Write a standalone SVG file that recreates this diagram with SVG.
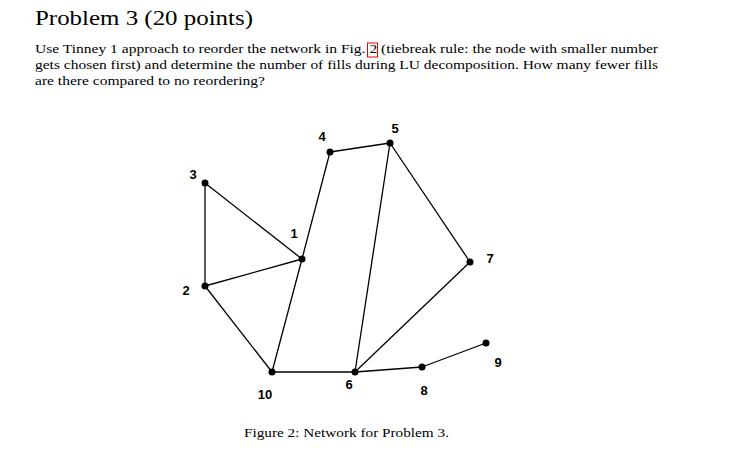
<svg xmlns="http://www.w3.org/2000/svg" width="748" height="451" viewBox="0 0 748 451">
<style>
.t{font-family:"Liberation Serif",serif;fill:#000}
.b{font-size:13px}
.lb{font-family:"Liberation Sans",sans-serif;font-weight:bold;font-size:13px}
.e line{stroke:#000;stroke-width:1.3}
.n circle{fill:#000}
</style>
<rect width="748" height="451" fill="#fff"/>
<text class="t" x="35" y="25" font-size="21" textLength="218" lengthAdjust="spacingAndGlyphs">Problem 3 (20 points)</text>
<text class="t b" x="35" y="53" textLength="623" lengthAdjust="spacingAndGlyphs">Use Tinney 1 approach to reorder the network in Fig. 2 (tiebreak rule: the node with smaller number</text>
<rect x="367.5" y="43" width="10" height="14" fill="none" stroke="#e00" stroke-width="1"/>
<text class="t b" x="35" y="69" textLength="623" lengthAdjust="spacingAndGlyphs">gets chosen first) and determine the number of fills during LU decomposition. How many fewer fills</text>
<text class="t b" x="35" y="85" textLength="230" lengthAdjust="spacingAndGlyphs">are there compared to no reordering?</text>
<g id="edges" class="e">
<line x1="205" y1="183" x2="205" y2="286"/>
<line x1="205" y1="183" x2="302" y2="259"/>
<line x1="205" y1="286" x2="302" y2="259"/>
<line x1="205" y1="286" x2="272" y2="372"/>
<line x1="272" y1="372" x2="302" y2="259"/>
<line x1="302" y1="259" x2="330" y2="152"/>
<line x1="330" y1="152" x2="390" y2="143"/>
<line x1="390" y1="143" x2="355" y2="372"/>
<line x1="390" y1="143" x2="470" y2="262"/>
<line x1="470" y1="262" x2="355" y2="372"/>
<line x1="272" y1="372" x2="355" y2="372"/>
<line x1="355" y1="372" x2="422" y2="367"/>
<line x1="422" y1="367" x2="486" y2="343"/>
</g>
<g id="n1" class="n"><circle cx="302" cy="259" r="3.5"/><text class="lb" x="294" y="238" text-anchor="middle">1</text></g>
<g id="n2" class="n"><circle cx="205" cy="286" r="3.5"/><text class="lb" x="186" y="295" text-anchor="middle">2</text></g>
<g id="n3" class="n"><circle cx="205" cy="183" r="3.5"/><text class="lb" x="193" y="179" text-anchor="middle">3</text></g>
<g id="n4" class="n"><circle cx="330" cy="152" r="3.5"/><text class="lb" x="322" y="141" text-anchor="middle">4</text></g>
<g id="n5" class="n"><circle cx="390" cy="143" r="3.5"/><text class="lb" x="395" y="133" text-anchor="middle">5</text></g>
<g id="n6" class="n"><circle cx="355" cy="372" r="3.5"/><text class="lb" x="349" y="389" text-anchor="middle">6</text></g>
<g id="n7" class="n"><circle cx="470" cy="262" r="3.5"/><text class="lb" x="490" y="263" text-anchor="middle">7</text></g>
<g id="n8" class="n"><circle cx="422" cy="367" r="3.5"/><text class="lb" x="424" y="395" text-anchor="middle">8</text></g>
<g id="n9" class="n"><circle cx="486" cy="343" r="3.5"/><text class="lb" x="498" y="367" text-anchor="middle">9</text></g>
<g id="n10" class="n"><circle cx="272" cy="372" r="3.5"/><text class="lb" x="265" y="399" text-anchor="middle">10</text></g>
<text class="t b" x="244" y="437" textLength="205" lengthAdjust="spacingAndGlyphs">Figure 2: Network for Problem 3.</text>
</svg>
